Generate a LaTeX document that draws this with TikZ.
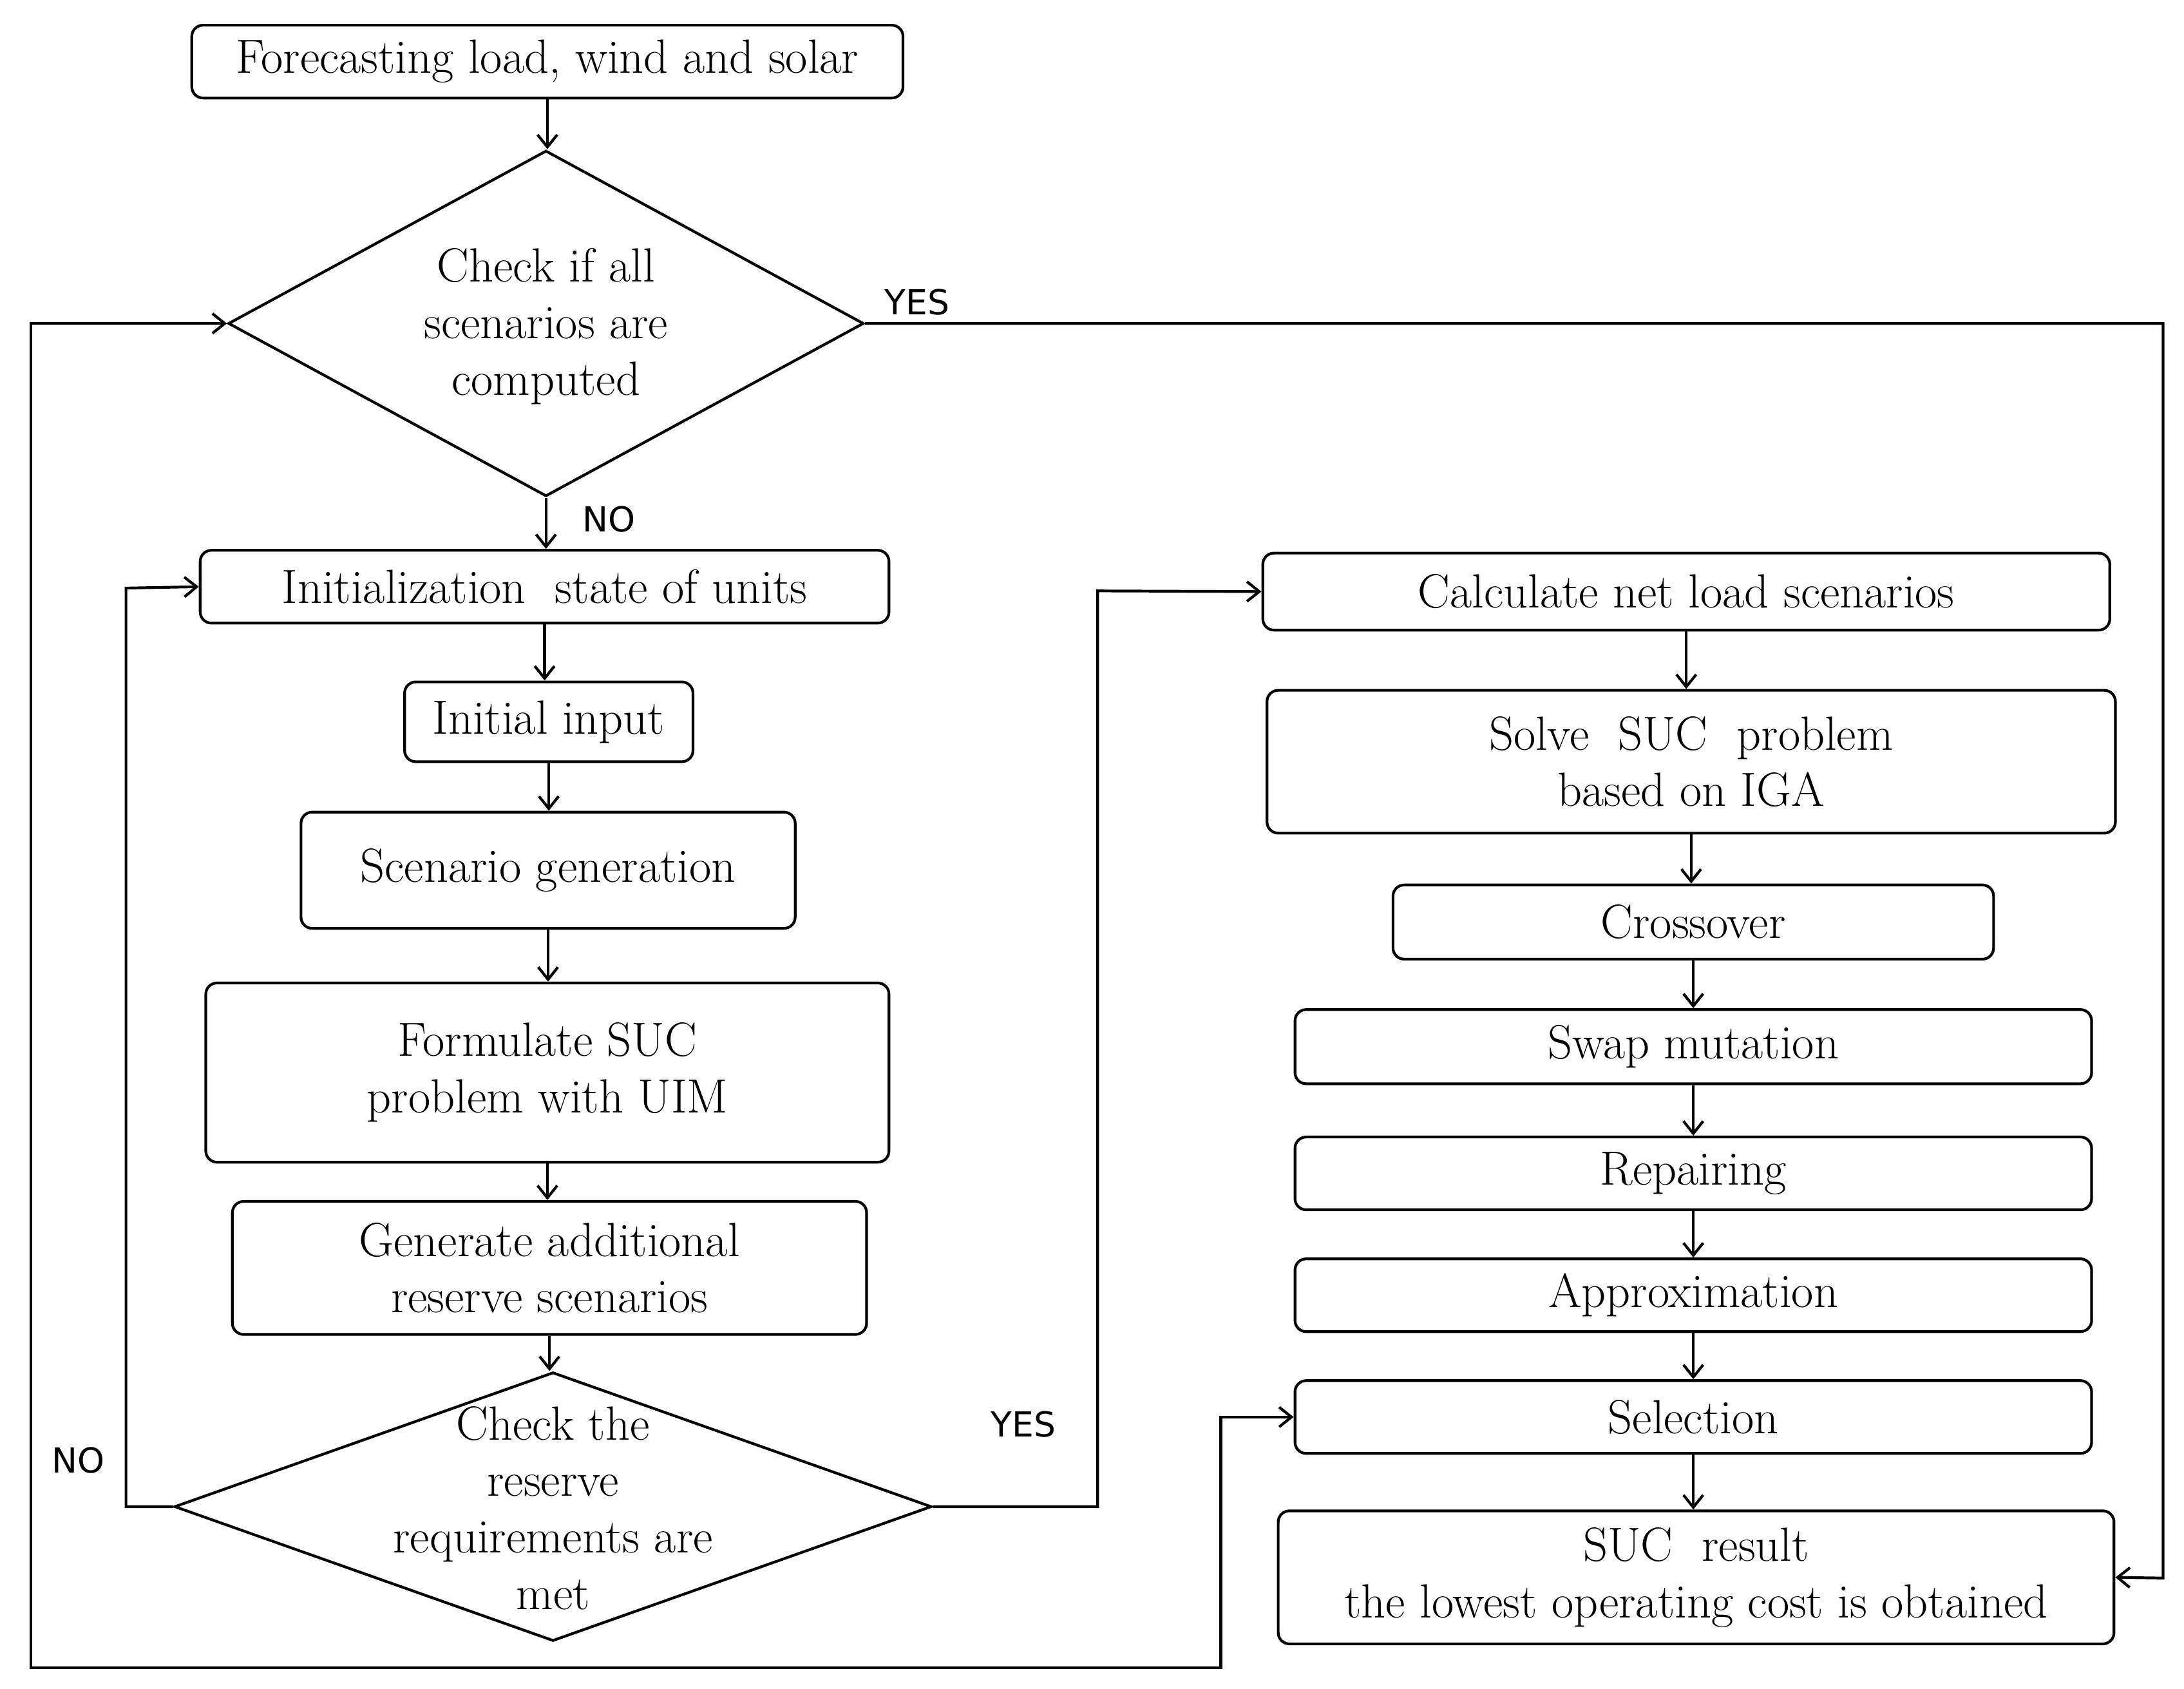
\documentclass[tikz,border=0pt]{standalone}
\usepackage{fontspec}
\newfontfamily\lblfont{DejaVu Sans}
\usetikzlibrary{shapes.geometric,arrows.meta}
\begin{document}
\begin{tikzpicture}[x=0.02cm,y=-0.02cm,
 every node/.style={font=\fontsize{19.5}{23}\selectfont},
 box/.style={draw,line width=1.1pt,rounded corners=0.16cm,align=center,inner sep=0},
 dia/.style={draw,line width=1.1pt,diamond,inner sep=0},
 ln/.style={line width=1.1pt},
 arr/.style={ln,-{Straight Barb[length=5pt,width=8pt]}},
 lbl/.style={font=\lblfont\fontsize{14}{16}\selectfont}]
\useasboundingbox (0,0) rectangle (1560,1206);
\newcommand{\bx}[6]{\node[box,minimum width={(#4-#2)*0.02cm},minimum height={(#5-#3)*0.02cm}] (#1) at ({(#2+#4)/2},{(#3+#5)/2}) {#6};}
\newcommand{\vc}[2]{\draw[arr] (#1.south) -- (#1.south |- #2.north);}
\bx{fc}{137}{18}{645}{70}{Forecasting load, wind and solar}
\node[dia,minimum width=9.08cm,minimum height=4.94cm] (d1) at (390,231) {};
\node[align=center] at (390,233) {Check if all\\scenarios are\\computed};
\bx{init}{143}{393}{635}{445}{Initialization\ \ state of units}
\bx{ii}{289}{487}{495}{544}{Initial input}
\bx{sg}{215}{580}{568}{663}{Scenario generation}
\bx{fs}{147}{702}{635}{830}{Formulate SUC\\problem with UIM}
\bx{ga}{166}{858}{619}{953}{Generate additional\\reserve scenarios}
\node[dia,minimum width=10.82cm,minimum height=3.84cm] (d2) at (395,1076) {};
\node[align=center] at (395,1077) {Check the\\reserve\\requirements are\\met};
\bx{cn}{902}{395}{1507}{450}{Calculate net load scenarios}
\bx{so}{905}{493}{1511}{595}{Solve\ \ SUC\ \ problem\\based on IGA}
\bx{co}{995}{632}{1424}{685}{Crossover}
\bx{sw}{925}{721}{1494}{774}{Swap mutation}
\bx{re}{925}{812}{1494}{864}{Repairing}
\bx{ap}{925}{899}{1494}{951}{Approximation}
\bx{se}{925}{986}{1494}{1038}{Selection}
\bx{sr}{913}{1079}{1510}{1174}{SUC\ \ result\\the lowest operating cost is obtained}
\draw[arr] (fc.south) -- (fc.south |- d1.north);
\draw[arr] (d1.south) -- (d1.south |- init.north);
\vc{init}{ii}\vc{ii}{sg}\vc{sg}{fs}\vc{fs}{ga}
\draw[arr] (ga.south) -- (ga.south |- d2.north);
\vc{cn}{so}\vc{so}{co}\vc{co}{sw}\vc{sw}{re}\vc{re}{ap}\vc{ap}{se}\vc{se}{sr}
\draw[arr] (d1.east) -- (1545,231) -- (1545,1127) -- (sr.east);
\draw[arr] (d2.west) -- (90,1076) -- (90,420) -- (init.west);
\draw[arr] (d2.east) -- (784,1076) -- (784,422) -- (cn.west);
\draw[ln,{Straight Barb[length=5pt,width=8pt]}-{Straight Barb[length=5pt,width=8pt]}] (d1.west) -- (22,231) -- (22,1191) -- (872,1191) -- (872,1012) -- (se.west);
\node[lbl] at (655,216) {YES};
\node[lbl] at (435,371) {NO};
\node[lbl] at (56,1043) {NO};
\node[lbl] at (731,1017) {YES};
\end{tikzpicture}
\end{document}
